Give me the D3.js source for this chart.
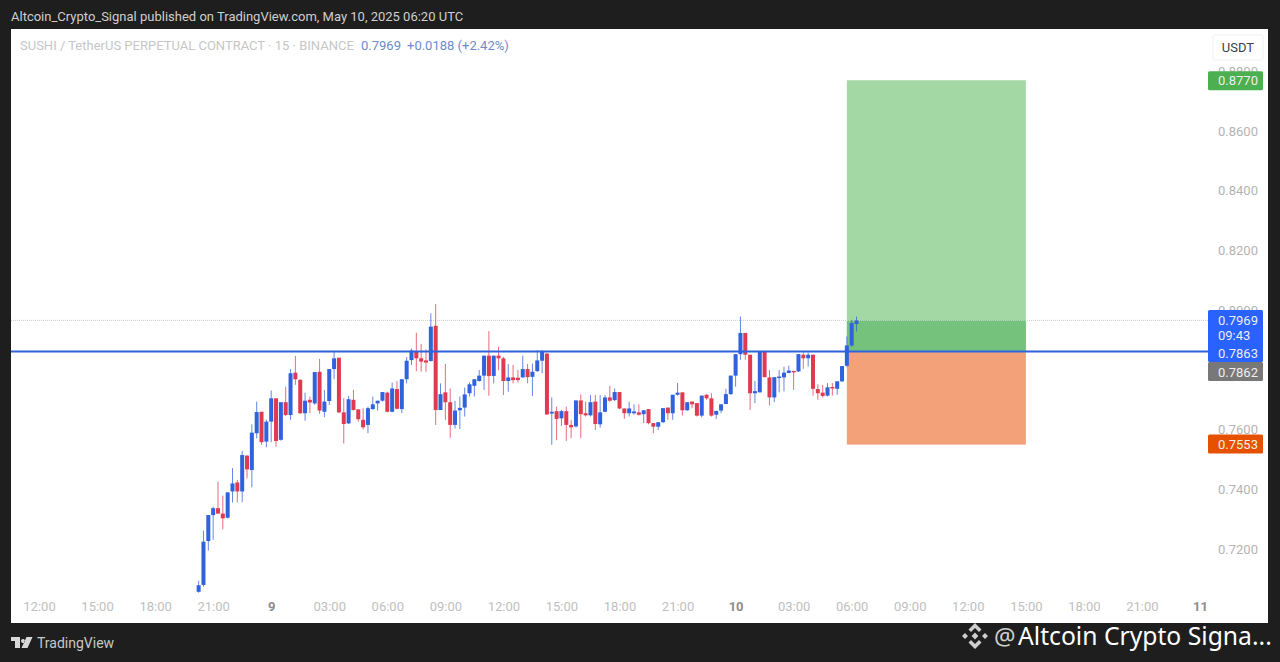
<!DOCTYPE html>
<html>
<head>
<meta charset="utf-8">
<script src="https://cdnjs.cloudflare.com/ajax/libs/d3/7.8.5/d3.min.js"></script>
<style>
  html, body { margin: 0; padding: 0; background: #1e1e1e; overflow: hidden; }
  svg { display: block; }
  text { font-family: Roboto, sans-serif; }
  text.watermark { font-family: "Noto Sans", sans-serif; }
</style>
</head>
<body>
<div id="chart"></div>
<script>
// 15 minute candles, first one is May 8 20:15 UTC
const startTime = Date.UTC(2025, 4, 8, 20, 15);
const barMinutes = 15;

const opens = [
  .7060,.7083,.7230,.7317,.7340,.7322,.7308,.7396,.7426,.7396,.7516,.7468,.7591,.7663,.7563,.7630,
  .7708,.7569,.7695,.7652,.7794,.7770,.7658,.7703,.7691,.7797,.7663,.7699,.7806,.7844,.7661,.7624,
  .7703,.7671,.7636,.7619,.7672,.7691,.7700,.7727,.7663,.7739,.7672,.7772,.7836,.7864,.7842,.7835,
  .7833,.7951,.7669,.7728,.7695,.7619,.7668,.7677,.7725,.7750,.7766,.7784,.7851,.7783,.7851,.7842,
  .7766,.7778,.7777,.7778,.7806,.7780,.7799,.7834,.7858,.7657,.7665,.7641,.7665,.7619,.7614,.7701,
  .7658,.7651,.7697,.7621,.7663,.7711,.7702,.7729,.7674,.7658,.7658,.7661,.7655,.7672,.7625,.7613,
  .7628,.7677,.7658,.7720,.7728,.7668,.7697,.7692,.7650,.7720,.7708,.7653,.7667,.7689,.7722,.7784,
  .7856,.7927,.7854,.7725,.7728,.7865,.7778,.7711,.7778,.7778,.7793,.7800,.7798,.7854,.7842,.7854,
  .7739,.7727,.7717,.7746,.7740,.7765,.7817,.7885,.7957
];
const closes = [
  .7082,.7228,.7317,.7340,.7322,.7306,.7393,.7423,.7396,.7518,.7470,.7593,.7662,.7561,.7630,.7708,
  .7565,.7695,.7652,.7792,.7772,.7658,.7700,.7694,.7796,.7667,.7697,.7806,.7842,.7661,.7622,.7705,
  .7669,.7638,.7611,.7675,.7688,.7700,.7729,.7663,.7741,.7673,.7772,.7834,.7868,.7842,.7831,.7828,
  .7948,.7669,.7722,.7695,.7619,.7667,.7676,.7721,.7755,.7772,.7784,.7851,.7783,.7851,.7842,.7766,
  .7778,.7769,.7769,.7806,.7779,.7797,.7835,.7864,.7654,.7663,.7639,.7665,.7619,.7611,.7701,.7655,
  .7651,.7695,.7622,.7661,.7711,.7700,.7729,.7674,.7658,.7674,.7664,.7653,.7668,.7625,.7613,.7628,
  .7675,.7658,.7720,.7727,.7668,.7695,.7688,.7650,.7717,.7708,.7650,.7666,.7688,.7722,.7784,.7856,
  .7927,.7854,.7725,.7732,.7865,.7779,.7711,.7779,.7781,.7794,.7801,.7796,.7856,.7842,.7854,.7740,
  .7725,.7716,.7745,.7742,.7765,.7816,.7885,.7960,.7969
];
const highs = [
  .7097,.7265,.7317,.7345,.7429,.7382,.7393,.7474,.7435,.7532,.7518,.7621,.7697,.7663,.7636,.7734,
  .7708,.7695,.7747,.7806,.7850,.7772,.7727,.7714,.7796,.7840,.7736,.7806,.7864,.7844,.7708,.7716,
  .7736,.7671,.7675,.7680,.7714,.7700,.7729,.7730,.7761,.7766,.7772,.7846,.7875,.7928,.7890,.7872,
  .7993,.8024,.7758,.7823,.7741,.7699,.7714,.7744,.7762,.7772,.7803,.7851,.7933,.7851,.7881,.7847,
  .7823,.7820,.7803,.7851,.7823,.7825,.7870,.7870,.7859,.7711,.7680,.7669,.7680,.7635,.7701,.7721,
  .7697,.7719,.7719,.7719,.7719,.7750,.7741,.7729,.7674,.7697,.7688,.7688,.7668,.7672,.7625,.7628,
  .7675,.7677,.7720,.7759,.7728,.7695,.7697,.7692,.7717,.7722,.7725,.7666,.7688,.7740,.7784,.7856,
  .7982,.7927,.7854,.7766,.7865,.7865,.7803,.7779,.7803,.7814,.7817,.7800,.7856,.7862,.7862,.7854,
  .7755,.7753,.7759,.7759,.7765,.7816,.7915,.7971,.7982
];
const lows = [
  .7057,.7077,.7198,.7234,.7321,.7269,.7306,.7359,.7360,.7360,.7440,.7410,.7574,.7552,.7544,.7561,
  .7546,.7566,.7649,.7636,.7753,.7656,.7633,.7658,.7686,.7656,.7645,.7686,.7772,.7658,.7557,.7622,
  .7667,.7630,.7604,.7591,.7669,.7667,.7697,.7661,.7661,.7671,.7658,.7758,.7820,.7799,.7797,.7797,
  .7831,.7619,.7669,.7635,.7576,.7607,.7605,.7647,.7714,.7714,.7764,.7736,.7717,.7758,.7803,.7719,
  .7730,.7758,.7761,.7777,.7758,.7716,.7797,.7792,.7652,.7552,.7568,.7616,.7565,.7574,.7610,.7574,
  .7647,.7647,.7602,.7610,.7661,.7697,.7699,.7672,.7639,.7647,.7653,.7650,.7625,.7621,.7591,.7602,
  .7625,.7636,.7636,.7717,.7650,.7666,.7675,.7647,.7644,.7703,.7647,.7639,.7658,.7688,.7720,.7747,
  .7837,.7837,.7669,.7692,.7728,.7778,.7684,.7695,.7728,.7731,.7792,.7736,.7796,.7807,.7814,.7717,
  .7703,.7711,.7714,.7717,.7720,.7762,.7814,.7881,.7932
];

const priceTicks = [0.88, 0.86, 0.84, 0.82, 0.80, 0.78, 0.76, 0.74, 0.72];
const timeTickLabels = ['12:00','15:00','18:00','21:00','9','03:00','06:00','09:00','12:00','15:00','18:00',
  '21:00','10','03:00','06:00','09:00','12:00','15:00','18:00','21:00','11'];
const dayLabels = ['9', '10', '11'];

// long position tool
const targetPrice = 0.8770;
const entryPrice = 0.7863;
const stopPrice = 0.7553;
const lastPrice = 0.7969;
const positionStart = Date.UTC(2025, 4, 10, 5, 45);
const positionEnd = Date.UTC(2025, 4, 10, 15, 0);

const upColor = '#2f62dc';
const downColor = '#e03a50';

const svg = d3.select('#chart').append('svg').attr('width', 1280).attr('height', 662);

// Page frame
svg.append('rect').attr('width', 1280).attr('height', 662).attr('fill', '#1e1e1e');
svg.append('rect').attr('x', 11).attr('y', 29).attr('width', 1257).attr('height', 594).attr('fill', '#fff');

const x = d3.scaleUtc()
  .domain([Date.UTC(2025, 4, 8, 12), Date.UTC(2025, 4, 11, 0)])
  .range([39, 1200]);
const y = d3.scaleLinear().domain([0.72, 0.86]).range([550, 132]);

svg.append('defs').append('clipPath').attr('id', 'plot-clip')
  .append('rect').attr('x', 11).attr('y', 29).attr('width', 1198).attr('height', 594);
const plot = svg.append('g').attr('clip-path', 'url(#plot-clip)');

// Position boxes
const posX = x(positionStart);
const posW = x(positionEnd) - posX;
plot.append('rect').attr('x', posX).attr('width', posW)
  .attr('y', y(targetPrice) - 1).attr('height', y(entryPrice) - y(targetPrice) + 1).attr('fill', '#a3d8a5');
plot.append('rect').attr('x', posX).attr('width', posW)
  .attr('y', y(lastPrice)).attr('height', y(entryPrice) - y(lastPrice)).attr('fill', '#74c27c');
plot.append('rect').attr('x', posX).attr('width', posW)
  .attr('y', y(entryPrice)).attr('height', y(stopPrice) - y(entryPrice)).attr('fill', '#f2a178');

// Last price line
plot.append('line').attr('x1', 11).attr('x2', 1209).attr('y1', y(lastPrice)).attr('y2', y(lastPrice))
  .attr('stroke', '#c4cfd0').attr('stroke-width', 1).attr('stroke-dasharray', '1 1');

// Candles
const bars = opens.map((open, i) => ({
  time: startTime + i * barMinutes * 60000,
  open, close: closes[i], high: highs[i], low: lows[i]
}));
const barColor = d => d.close >= d.open ? upColor : downColor;

const candles = plot.append('g').selectAll('g').data(bars).join('g');
candles.append('line')
  .attr('x1', d => x(d.time)).attr('x2', d => x(d.time))
  .attr('y1', d => y(d.high)).attr('y2', d => y(d.low))
  .attr('stroke', barColor).attr('stroke-width', 1).attr('stroke-opacity', 0.75);
candles.append('rect')
  .attr('x', d => x(d.time) - 2).attr('width', 4)
  .attr('y', d => y(Math.max(d.open, d.close)))
  .attr('height', d => Math.max(1.5, Math.abs(y(d.open) - y(d.close))))
  .attr('fill', barColor);

// Entry line
plot.append('line').attr('x1', 11).attr('x2', 1209).attr('y1', y(entryPrice) - 0.5).attr('y2', y(entryPrice) - 0.5)
  .attr('stroke', '#2f62dc').attr('stroke-width', 2);

// Price axis
const yAxis = d3.axisRight(y).tickValues(priceTicks).tickSize(0).tickPadding(0).tickFormat(d3.format('.4f'));
const yAxisG = svg.append('g').attr('transform', 'translate(1218,-1)').call(yAxis);
yAxisG.select('.domain').remove();
yAxisG.selectAll('text').attr('font-size', 13).attr('fill', '#b4b4b4').attr('font-family', null);

// Time axis
const timeTicks = timeTickLabels.map((_, i) => Date.UTC(2025, 4, 8, 12) + i * 3 * 3600000);
const xAxis = d3.axisBottom(x).tickValues(timeTicks).tickSize(0).tickPadding(0)
  .tickFormat((d, i) => timeTickLabels[i]);
const xAxisG = svg.append('g').attr('transform', 'translate(0,602)').call(xAxis);
xAxisG.select('.domain').remove();
xAxisG.selectAll('text')
  .attr('font-size', 13).attr('font-family', null)
  .attr('fill', (d, i) => dayLabels.includes(timeTickLabels[i]) ? '#8c8c8c' : '#c0c0c0')
  .attr('font-weight', (d, i) => dayLabels.includes(timeTickLabels[i]) ? 700 : 400);

// Currency button
svg.append('rect').attr('x', 1213).attr('y', 35).attr('width', 50).attr('height', 25).attr('rx', 2)
  .attr('fill', '#fff').attr('stroke', '#f0f0f0');
svg.append('text').attr('x', 1238).attr('y', 52).attr('text-anchor', 'middle')
  .attr('font-size', 13).attr('fill', '#404040').text('USDT');

// Price tags
function addTag(top, height, fill, lines) {
  svg.append('rect').attr('x', 1208).attr('y', top).attr('width', 55).attr('height', height)
    .attr('rx', 1.5).attr('fill', fill);
  lines.forEach(line => {
    svg.append('text').attr('x', 1218).attr('y', line.y).attr('font-size', 13)
      .attr('fill', '#eeeeee').text(line.text);
  });
}
addTag(y(targetPrice) - 10, 19, '#4caf50', [{ text: '0.8770', y: y(targetPrice) + 4 }]);
addTag(310, 52, '#2962ff', [
  { text: '0.7969', y: 325 },
  { text: '09:43', y: 340 },
  { text: '0.7863', y: 358 }
]);
addTag(362, 19, '#787878', [{ text: '0.7862', y: 377 }]);
addTag(y(stopPrice) - 10, 19, '#e65100', [{ text: '0.7553', y: y(stopPrice) + 4.5 }]);

// Titles
svg.append('text').attr('x', 11).attr('y', 21).attr('font-size', 13).attr('fill', '#cfcfcf')
  .text('Altcoin_Crypto_Signal published on TradingView.com, May 10, 2025 06:20 UTC');
svg.append('text').attr('x', 20).attr('y', 50).attr('font-size', 13).attr('fill', '#c6c6c6')
  .text('SUSHI / TetherUS PERPETUAL CONTRACT · 15 · BINANCE');
svg.append('text').attr('x', 361).attr('y', 50).attr('font-size', 13).attr('fill', '#6c8cca').text('0.7969');
svg.append('text').attr('x', 407).attr('y', 50).attr('font-size', 13).attr('fill', '#6c8cca').text('+0.0188 (+2.42%)');

// TradingView footer
svg.append('path').attr('transform', 'translate(11,637)').attr('fill', '#d8d8d8')
  .attr('d', 'M0 0H9V11H4V4H0ZM12 2a2 2 0 1 0 .01 0ZM15.5 0H21.5L16.5 11H10.5Z');
svg.append('text').attr('x', 37).attr('y', 648).attr('font-size', 14).attr('fill', '#c8c8c8').text('TradingView');

// Watermark
svg.append('path').attr('transform', 'translate(975,636)').attr('fill', '#cfcfcf')
  .attr('d', 'M0-13L6.5-6.5 4-4 0-8-4-4-6.5-6.5Z M0 13L6.5 6.5 4 4 0 8-4 4-6.5 6.5Z M-13 0L-10 -3-7 0-10 3Z M13 0L10 -3 7 0 10 3Z M0-3.4L3.4 0 0 3.4-3.4 0Z');
svg.append('text').attr('class', 'watermark').attr('x', 994).attr('y', 645).attr('font-size', 24)
  .attr('fill', '#cfcfcf').text('@');
svg.append('text').attr('class', 'watermark').attr('x', 1018).attr('y', 645).attr('font-size', 24.7)
  .attr('fill', '#fff').text('Altcoin Crypto Signa...');
</script>
</body>
</html>
